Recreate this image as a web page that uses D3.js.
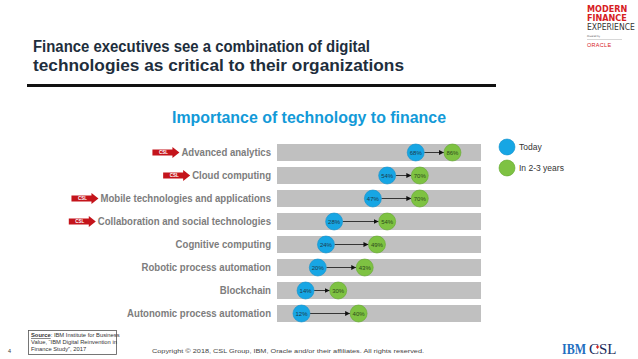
<!DOCTYPE html>
<html>
<head>
<meta charset="utf-8">
<script src="https://cdn.jsdelivr.net/npm/d3@7"></script>
<style>
  body { margin: 0; background: #fff; }
  svg { display: block; font-family: "Liberation Sans", Arial, sans-serif; }
</style>
</head>
<body>
<div id="chart"></div>
<script>
var width = 638,
    height = 359;

var categories = ["Advanced analytics", "Cloud computing", "Mobile technologies and applications",
  "Collaboration and social technologies", "Cognitive computing", "Robotic process automation",
  "Blockchain", "Autonomic process automation"];
var today = [68, 54, 47, 28, 24, 20, 14, 12];
var future = [86, 70, 70, 54, 49, 43, 30, 40];
var cslFlag = [true, true, true, true, false, false, false, false];
var legendLabels = ["Today", "In 2-3 years"];

var blue = "#17a6e4", blueEdge = "#1190cc",
    green = "#7ec242", greenEdge = "#62a82e";

var svg = d3.select("#chart").append("svg")
    .attr("width", width)
    .attr("height", height);

svg.append("defs").append("marker")
    .attr("id", "arrow")
    .attr("viewBox", "0 -5 10 10")
    .attr("refX", 10)
    .attr("refY", 0)
    .attr("markerWidth", 5)
    .attr("markerHeight", 5)
    .attr("markerUnits", "userSpaceOnUse")
    .attr("orient", "auto")
  .append("path")
    .attr("d", "M0,-5 L10,0 L0,5 Z")
    .attr("fill", "#111");

// title (narrow grotesque in the original, so squeeze to its width)
svg.append("text")
    .attr("x", 33).attr("y", 52)
    .attr("font-size", 17.2)
    .attr("font-weight", "bold")
    .attr("fill", "#1e2e3c")
    .attr("textLength", 337)
    .attr("lengthAdjust", "spacingAndGlyphs")
    .text("Finance executives see a combination of digital");
svg.append("text")
    .attr("x", 33).attr("y", 70.5)
    .attr("font-size", 17.2)
    .attr("font-weight", "bold")
    .attr("fill", "#1e2e3c")
    .attr("textLength", 371)
    .attr("lengthAdjust", "spacingAndGlyphs")
    .text("technologies as critical to their organizations");

svg.append("rect")
    .attr("x", 27).attr("y", 84)
    .attr("width", 469).attr("height", 3)
    .attr("fill", "#111");

svg.append("text")
    .attr("x", 309)
    .attr("y", 123)
    .attr("text-anchor", "middle")
    .attr("font-size", 16.5)
    .attr("font-weight", "bold")
    .attr("fill", "#139ad8")
    .attr("textLength", 274)
    .attr("lengthAdjust", "spacingAndGlyphs")
    .text("Importance of technology to finance");

// top right logo
var logo = svg.append("g").attr("font-family", "'DejaVu Sans Condensed', 'Liberation Sans Narrow', sans-serif");
logo.append("text").attr("x", 587).attr("y", 12).attr("font-size", 9).attr("font-weight", "bold")
    .attr("fill", "#d7201f").text("MODERN");
logo.append("text").attr("x", 587).attr("y", 21).attr("font-size", 9).attr("font-weight", "bold")
    .attr("fill", "#d7201f").text("FINANCE");
logo.append("text").attr("x", 587).attr("y", 30).attr("font-size", 8.5)
    .attr("fill", "#333").text("EXPERIENCE");
logo.append("text").attr("x", 587).attr("y", 37).attr("font-size", 2.5)
    .attr("fill", "#555").text("Powered by");
logo.append("line").attr("x1", 587).attr("x2", 622).attr("y1", 39.5).attr("y2", 39.5)
    .attr("stroke", "#999").attr("stroke-width", 0.4);
logo.append("text").attr("x", 587).attr("y", 47).attr("font-size", 5.5)
    .attr("fill", "#d7201f").attr("font-family", "'Liberation Sans', sans-serif")
    .attr("letter-spacing", 0.3).text("ORACLE");

// scales
var x = d3.scaleLinear().domain([0, 100]).range([277, 481]);
var y = d3.scaleBand().domain(categories).range([141, 325]).paddingInner(0.26).paddingOuter(0.13);
var r = 8.5;

var rows = svg.selectAll(".row")
    .data(categories)
    .enter().append("g")
    .attr("class", "row");

rows.append("rect")
    .attr("x", x(0))
    .attr("y", function(d) { return y(d); })
    .attr("width", x(100) - x(0))
    .attr("height", y.bandwidth())
    .attr("fill", "#c0c0c0");

// labels: a bit taller than wide, squeezed back to the width of 9.6px text
rows.append("text")
    .attr("class", "label")
    .attr("x", 271)
    .attr("y", function(d) { return y(d) + y.bandwidth() / 2 + 3.8; })
    .attr("text-anchor", "end")
    .attr("font-size", 10.4)
    .attr("font-weight", "bold")
    .attr("fill", "#7d7d7d")
    .text(function(d) { return d; })
    .each(function() {
      var w = this.getComputedTextLength();
      d3.select(this).attr("textLength", w * 9.6 / 10.4).attr("lengthAdjust", "spacingAndGlyphs");
    });

// CSL red arrows
rows.filter(function(d, i) { return cslFlag[i]; })
  .each(function(d) {
    var g = d3.select(this);
    var lbl = +g.select(".label").attr("textLength");
    var tip = 271 - lbl - 2;
    var cy = y(d) + y.bandwidth() / 2;
    g.append("path")
      .attr("d", "M" + (tip - 27) + "," + (cy - 3) + " L" + (tip - 7) + "," + (cy - 3) +
        " L" + (tip - 7) + "," + (cy - 5.5) + " L" + tip + "," + cy +
        " L" + (tip - 7) + "," + (cy + 5.5) + " L" + (tip - 7) + "," + (cy + 3) +
        " L" + (tip - 27) + "," + (cy + 3) + " Z")
      .attr("fill", "#c4141b");
    g.append("text")
      .attr("x", tip - 16)
      .attr("y", cy + 1.8)
      .attr("text-anchor", "middle")
      .attr("font-size", 4.5)
      .attr("font-weight", "bold")
      .attr("fill", "#fff")
      .text("CSL");
  });

// connectors
rows.append("line")
    .attr("x1", function(d, i) { return x(today[i]) + r; })
    .attr("x2", function(d, i) { return x(future[i]) - r; })
    .attr("y1", function(d) { return y(d) + y.bandwidth() / 2; })
    .attr("y2", function(d) { return y(d) + y.bandwidth() / 2; })
    .attr("stroke", "#111")
    .attr("stroke-width", 0.8)
    .attr("marker-end", "url(#arrow)");

rows.append("circle")
    .attr("cx", function(d, i) { return x(today[i]); })
    .attr("cy", function(d) { return y(d) + y.bandwidth() / 2; })
    .attr("r", r)
    .attr("fill", blue)
    .attr("stroke", blueEdge)
    .attr("stroke-width", 0.6);

rows.append("circle")
    .attr("cx", function(d, i) { return x(future[i]); })
    .attr("cy", function(d) { return y(d) + y.bandwidth() / 2; })
    .attr("r", r)
    .attr("fill", green)
    .attr("stroke", greenEdge)
    .attr("stroke-width", 0.6);

rows.append("text")
    .attr("x", function(d, i) { return x(today[i]); })
    .attr("y", function(d) { return y(d) + y.bandwidth() / 2 + 2.2; })
    .attr("text-anchor", "middle")
    .attr("font-size", 6)
    .attr("fill", "#1d3a4a")
    .text(function(d, i) { return today[i] + "%"; });

rows.append("text")
    .attr("x", function(d, i) { return x(future[i]); })
    .attr("y", function(d) { return y(d) + y.bandwidth() / 2 + 2.2; })
    .attr("text-anchor", "middle")
    .attr("font-size", 6)
    .attr("fill", "#2d4a1a")
    .text(function(d, i) { return future[i] + "%"; });

// legend
var legend = svg.selectAll(".legend")
    .data(legendLabels)
    .enter().append("g")
    .attr("transform", function(d, i) { return "translate(507," + (147 + i * 21) + ")"; });

legend.append("circle")
    .attr("r", 8)
    .attr("fill", function(d, i) { return i ? green : blue; })
    .attr("stroke", function(d, i) { return i ? greenEdge : blueEdge; })
    .attr("stroke-width", 0.6);

legend.append("text")
    .attr("x", 12)
    .attr("y", 3)
    .attr("font-size", 8.5)
    .attr("fill", "#333")
    .text(function(d) { return d; });

// source box
svg.append("rect")
    .attr("x", 28.5).attr("y", 330.5)
    .attr("width", 88).attr("height", 24)
    .attr("fill", "none")
    .attr("stroke", "#555")
    .attr("stroke-width", 0.8);

var src = svg.append("text")
    .attr("x", 31)
    .attr("y", 337)
    .attr("font-size", 5.8)
    .attr("fill", "#333");
var l1 = src.append("tspan").attr("x", 31);
l1.append("tspan").attr("font-weight", "bold").attr("text-decoration", "underline").text("Source");
l1.append("tspan").text(": IBM Institute for Business");
src.append("tspan").attr("x", 31).attr("dy", 7).text("Value, \u201cIBM Digital Reinvention in");
src.append("tspan").attr("x", 31).attr("dy", 7).text("Finance Study\u201d, 2017");

svg.append("text")
    .attr("x", 8).attr("y", 353)
    .attr("font-size", 5.5)
    .attr("fill", "#333")
    .text("4");

svg.append("text")
    .attr("x", 152).attr("y", 353)
    .attr("font-size", 6)
    .attr("fill", "#444")
    .attr("textLength", 272)
    .attr("lengthAdjust", "spacingAndGlyphs")
    .text("Copyright \u00a9 2018, CSL Group, IBM, Oracle and/or their  affiliates. All rights reserved.");

// IBM CSL logo
svg.append("text")
    .attr("x", 562).attr("y", 354)
    .attr("font-size", 14)
    .attr("font-weight", "bold")
    .attr("font-family", "'Liberation Serif', serif")
    .attr("fill", "#1f70c1")
    .attr("textLength", 24)
    .attr("lengthAdjust", "spacingAndGlyphs")
    .text("IBM");
svg.append("text")
    .attr("x", 589).attr("y", 354)
    .attr("font-size", 15)
    .attr("font-family", "'Liberation Serif', serif")
    .attr("fill", "#1a2a5a")
    .text("CSL");
svg.append("path")
    .attr("d", "M596,347 l1.5,-2 l1.5,2 l-1.5,2 z")
    .attr("fill", "#d7201f");
</script>
</body>
</html>
